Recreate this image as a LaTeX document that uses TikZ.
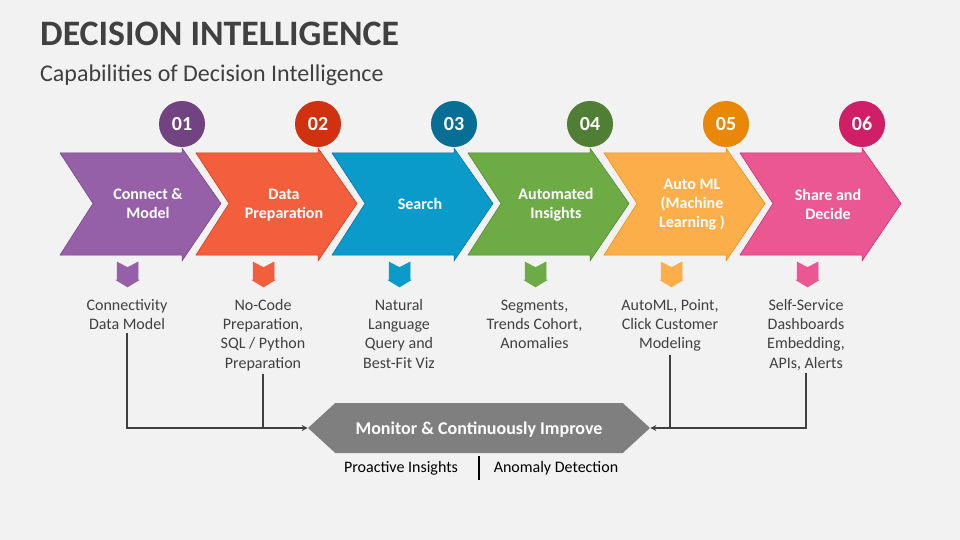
\documentclass[tikz,border=0pt]{standalone}
\usepackage{fontspec}
\setmainfont{Carlito}
\usetikzlibrary{arrows.meta}
\usetikzlibrary{shapes.symbols}
\usetikzlibrary{shadows}
\definecolor{pageback}{HTML}{F2F2F2}
\definecolor{inkdark}{HTML}{404040}
\definecolor{greybox}{HTML}{7F7F7F}
\definecolor{stepa}{HTML}{9560A8}
\definecolor{stepb}{HTML}{F35F3C}
\definecolor{stepc}{HTML}{0A9BCB}
\definecolor{stepd}{HTML}{6DAC44}
\definecolor{stepe}{HTML}{FBAE4A}
\definecolor{stepf}{HTML}{EA5793}
\definecolor{bubblea}{HTML}{714380}
\definecolor{bubbleb}{HTML}{D0320F}
\definecolor{bubblec}{HTML}{076F96}
\definecolor{bubbled}{HTML}{4F7E34}
\definecolor{bubblee}{HTML}{EB8707}
\definecolor{bubblef}{HTML}{D11F67}
\tikzset{
    steptext/.style = {text = white, font = \fontsize{16}{19}\selectfont\bfseries, align = center, inner sep = 0pt},
    bubble/.style = {circle, minimum size = 46pt, inner sep = 0pt, text = white, font = \fontsize{20}{24}\selectfont\bfseries, drop shadow = {shadow xshift = 0pt, shadow yshift = 0pt, opacity = 0.3}},
    itemtext/.style = {anchor = north, text = inkdark, font = \fontsize{16}{19.3}\selectfont, align = center, inner xsep = 0pt, inner ysep = 3pt},
    feed/.style = {draw = inkdark, line width = 1.4pt},
}
\begin{document}
\begin{tikzpicture}[x = 1pt, y = -1pt]
    \useasboundingbox (0,0) rectangle (960,540);
    \fill[pageback] (0,0) rectangle (960,540);
    \node[anchor = west, inner sep = 0pt, text = inkdark, font = \fontsize{35.8}{40}\selectfont\bfseries] (title) at (40,34) {DECISION INTELLIGENCE};
    \node[anchor = west, inner sep = 0pt, text = inkdark, font = \fontsize{24}{28}\selectfont] (subtitle) at (40,75) {Capabilities of Decision Intelligence};
    \foreach \i/\xx/\yy/\fillcol/\circcol/\txt in {
        1/0/204/stepa/bubblea/{Connect \&\\Model},
        2/136/205/stepb/bubbleb/{Data\\Preparation},
        3/272/203.5/stepc/bubblec/{Search},
        4/408/204.5/stepd/bubbled/{Automated\\Insights},
        5/544/204.5/stepe/bubblee/{Auto ML\\(Machine\\Learning )},
        6/680/204.5/stepf/bubblef/{Share and\\Decide}} {
        \begin{scope}[shift = {(\xx,0)}]
            \draw[fill = \fillcol, draw = \circcol, line width = 0.5pt] (60,153) -- (182,153) -- (182,148) -- (221,203.5) -- (182,261) -- (182,255) -- (60,255) -- (93,203.5) -- cycle;
            \node[steptext] (step\i) at (148,\yy) {\txt};
            \node[bubble, fill = \circcol] (num\i) at (182,124) {0\i};
            \draw[fill = \fillcol, draw = \fillcol, line width = 0.5pt] (117,262) -- (127.5,267.5) -- (138,262) -- (138,280) -- (139,280) -- (127.5,287) -- (116,280) -- (117,280) -- cycle;
        \end{scope}
    }
    % lists below the arrows
    \node[itemtext] (item1) at (127,296) {Connectivity\\Data Model};
    \node[itemtext] (item2) at (263,296) {No-Code\\Preparation,\\SQL / Python\\Preparation};
    \node[itemtext] (item3) at (399,296) {Natural\\Language\\Query and\\Best-Fit Viz};
    \node[itemtext] (item4) at (534.5,296.7) {Segments,\\Trends Cohort,\\Anomalies};
    \node[itemtext] (item5) at (670,296) {AutoML, Point,\\Click Customer\\Modeling};
    \node[itemtext] (item6) at (806,296) {Self-Service\\Dashboards\\Embedding,\\APIs, Alerts};
    \node[signal, signal to = west and east, signal pointer angle = 85, fill = greybox, minimum width = 342pt, minimum height = 50pt, inner sep = 0pt, text = white, text height = 15pt, text depth = 3pt, font = \fontsize{18}{22}\selectfont\bfseries] (monitor) at (479,428) {Monitor \& Continuously Improve};
    \node[inner sep = 0pt, font = \fontsize{16}{18}\selectfont] (proactive) at (401,468) {Proactive Insights};
    \node[inner sep = 0pt, font = \fontsize{16}{18}\selectfont] (anomaly) at (556,468) {Anomaly Detection};
    \coordinate (divtop) at (479,456);
    \coordinate (divbottom) at (479,480);
    \draw[line width = 1.4pt] (divtop) -- (divbottom);
    \draw[feed, -{Stealth[length = 6pt, width = 6pt]}] (item1.south) |- (monitor.west);
    \draw[feed] (item2.south) -- (item2.south |- monitor.west);
    \draw[feed, -{Stealth[length = 6pt, width = 6pt]}] (item6.south) |- (monitor.east);
    \draw[feed] (item5.south) -- (item5.south |- monitor.east);
\end{tikzpicture}
\end{document}
